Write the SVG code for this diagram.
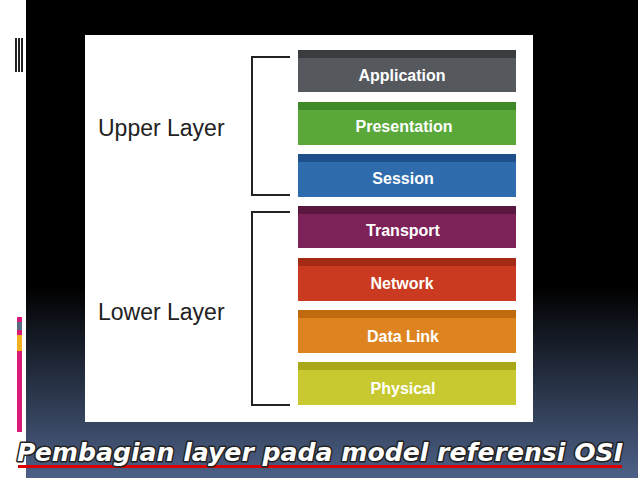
<svg xmlns="http://www.w3.org/2000/svg" width="638" height="478" viewBox="0 0 638 478">
<defs>
<linearGradient id="bg" x1="0" y1="0" x2="0" y2="1">
<stop offset="0" stop-color="#000"/><stop offset="0.6" stop-color="#000"/><stop offset="1" stop-color="#4d6187"/>
</linearGradient>
<style>
.lbl{font-family:"Liberation Sans",Arial,sans-serif;font-weight:bold;font-size:16px;fill:#fff;text-anchor:middle}
.side{font-family:"Liberation Sans",Arial,sans-serif;font-size:23px;fill:#222}
.br{fill:none;stroke:#222;stroke-width:2}
</style>
</defs>
<rect width="638" height="478" fill="#fff"/>
<rect x="26" width="612" height="478" fill="url(#bg)"/>
<g fill="#222"><rect x="15" y="38" width="2" height="34"/><rect x="18" y="38" width="2" height="34"/><rect x="21" y="38" width="2" height="34"/></g>
<rect x="17" y="317" width="5" height="115" fill="#d81b7a"/>
<rect x="17" y="322" width="5" height="8" fill="#5a6a80"/>
<rect x="17" y="335" width="5" height="16" fill="#f0b020"/>
<rect x="85" y="35" width="448" height="387" fill="#fff"/>
<g id="brackets">
<path class="br" d="M290 57 H252 V195 H290"/>
<path class="br" d="M290 212 H252 V405 H290"/>
</g>
<text class="side" x="98" y="136">Upper Layer</text>
<text class="side" x="98" y="320">Lower Layer</text>
<g id="app"><rect x="298" y="50" width="218" height="8" fill="#3a3d40"/><rect x="298" y="58" width="218" height="34" fill="#55595d"/><text class="lbl" x="402" y="81">Application</text></g>
<g id="pres"><rect x="298" y="102" width="218" height="8" fill="#3f8a28"/><rect x="298" y="110" width="218" height="35" fill="#5aa83a"/><text class="lbl" x="404" y="132">Presentation</text></g>
<g id="sess"><rect x="298" y="154" width="218" height="8" fill="#1d4f8a"/><rect x="298" y="162" width="218" height="35" fill="#2f6cad"/><text class="lbl" x="403" y="184">Session</text></g>
<g id="trans"><rect x="298" y="206" width="218" height="8" fill="#5a1840"/><rect x="298" y="214" width="218" height="34" fill="#7d2258"/><text class="lbl" x="403" y="236">Transport</text></g>
<g id="net"><rect x="298" y="258" width="218" height="8" fill="#a52a15"/><rect x="298" y="266" width="218" height="35" fill="#c93a20"/><text class="lbl" x="402" y="289">Network</text></g>
<g id="dl"><rect x="298" y="310" width="218" height="8" fill="#c06a10"/><rect x="298" y="318" width="218" height="35" fill="#dd8420"/><text class="lbl" x="403" y="342">Data Link</text></g>
<g id="phy"><rect x="298" y="362" width="218" height="8" fill="#a8a818"/><rect x="298" y="370" width="218" height="35" fill="#c8c830"/><text class="lbl" x="403" y="394">Physical</text></g>
<rect x="18" y="465" width="604" height="3" fill="#d00"/>
<text x="320" y="461" text-anchor="middle" font-family="'DejaVu Sans',sans-serif" font-weight="bold" font-style="italic" font-size="25" fill="#fff" stroke="#222" stroke-width="3" paint-order="stroke" stroke-linejoin="round" textLength="606" lengthAdjust="spacingAndGlyphs">Pembagian layer pada model referensi OSI</text>
</svg>
